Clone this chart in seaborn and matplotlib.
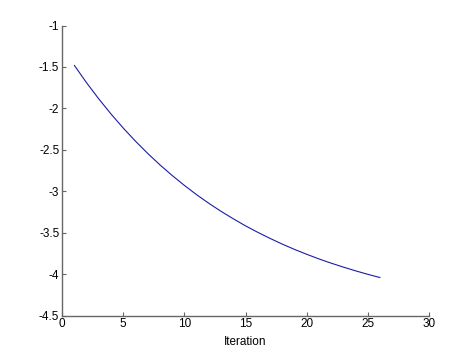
import matplotlib
matplotlib.use("Agg")
import matplotlib.pyplot as plt
import seaborn as sns
import pandas as pd

iterations = list(range(1, 27))
values = [-1.480, -1.690, -1.885, -2.067, -2.237, -2.395, -2.543, -2.681, -2.809,
          -2.929, -3.041, -3.145, -3.242, -3.332, -3.417, -3.495, -3.568, -3.637,
          -3.701, -3.760, -3.816, -3.867, -3.915, -3.960, -4.002, -4.041]
xticks = [0, 5, 10, 15, 20, 25, 30]
yticks = [-4.5, -4, -3.5, -3, -2.5, -2, -1.5, -1]
ytick_labels = ["-4.5", "-4", "-3.5", "-3", "-2.5", "-2", "-1.5", "-1"]

df = pd.DataFrame({"Iteration": iterations, "value": values})

sns.set_style("ticks")
plt.rcParams['font.family'] = ['Liberation Sans', 'DejaVu Sans']

fig = plt.figure(figsize=(4.74, 3.55), dpi=100)
ax = fig.add_axes([0.131, 0.111, 0.774, 0.817])
sns.lineplot(data=df, x="Iteration", y="value", ax=ax, color="#1c1ca8", linewidth=0.8)

ax.set_xlim(0, 30)
ax.set_ylim(-4.5, -1)
ax.set_xticks(xticks)
ax.set_xticklabels([str(t) for t in xticks])
ax.set_yticks(yticks)
ax.set_yticklabels(ytick_labels)
ax.set_xlabel("Iteration", fontsize=8.5, color="black", labelpad=4)
ax.set_ylabel("")

for s in ["top", "right"]:
    ax.spines[s].set_visible(False)
for s in ["left", "bottom"]:
    ax.spines[s].set_color("#666666")
    ax.spines[s].set_linewidth(1.0)
ax.tick_params(direction="in", length=3, width=0.8, color="#666666",
               labelsize=8.5, labelcolor="black", pad=2)

fig.savefig("out.png", dpi=100)
